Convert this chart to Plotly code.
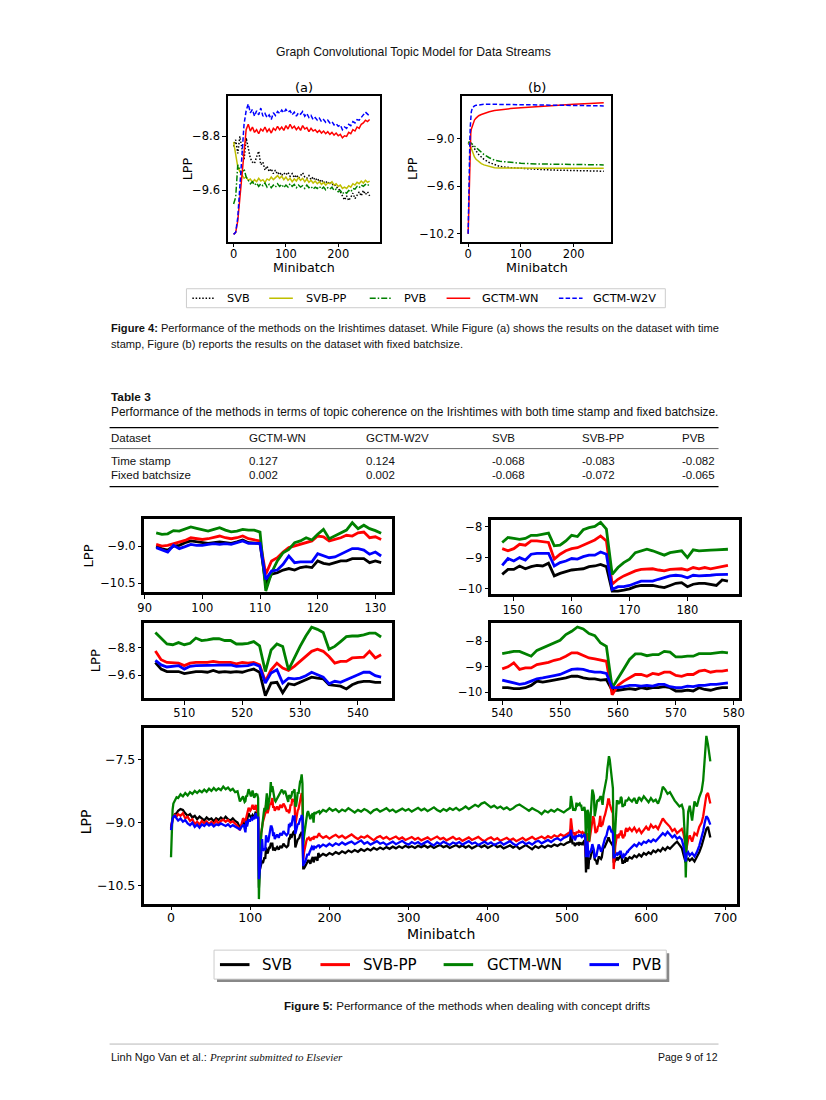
import plotly.graph_objects as go

# page pixel grid of the reference; the browser adds an 8 px body margin
OFF = 8
FW, FH = 818, 1092


def fx(p):
    return (p - OFF) / FW


def fy(p):
    return 1 - (p - OFF) / FH


PAGE_FONT = "Liberation Sans, Arial, sans-serif"
MPL_FONT = "DejaVu Sans, sans-serif"

# ---------------- Figure 4 data ----------------
f4a_x = list(range(0, 261, 4))
f4a_svb = [-8.95, -8.85, -9.05, -8.80, -8.98, -9.15, -8.82, -8.95, -9.12, -9.18,
           -9.20, -9.10, -9.02, -9.22, -9.18, -9.30, -9.24, -9.32, -9.28, -9.35,
           -9.30, -9.36, -9.33, -9.38, -9.34, -9.37, -9.33, -9.39, -9.35, -9.41,
           -9.37, -9.42, -9.38, -9.34, -9.40, -9.42, -9.38, -9.44, -9.40, -9.45,
           -9.42, -9.47, -9.44, -9.49, -9.46, -9.50, -9.47, -9.52, -9.50, -9.55,
           -9.56, -9.62, -9.70, -9.74, -9.68, -9.75, -9.70, -9.64, -9.72, -9.66,
           -9.62, -9.68, -9.60, -9.66, -9.62, -9.68]
f4a_svbpp = [-8.88, -9.10, -9.25, -9.32, -9.38, -9.42, -9.40, -9.45, -9.43, -9.48,
             -9.44, -9.47, -9.42, -9.46, -9.44, -9.48, -9.43, -9.45, -9.40, -9.44,
             -9.41, -9.38, -9.42, -9.39, -9.44, -9.40, -9.45, -9.42, -9.47, -9.43,
             -9.46, -9.41, -9.45, -9.42, -9.47, -9.43, -9.48, -9.45, -9.49, -9.46,
             -9.50, -9.47, -9.51, -9.48, -9.52, -9.49, -9.50, -9.47, -9.52, -9.50,
             -9.54, -9.52, -9.57, -9.55, -9.57, -9.53, -9.55, -9.50, -9.52, -9.48,
             -9.50, -9.46, -9.49, -9.45, -9.48, -9.46]
f4a_pvb = [-9.80, -9.70, -9.22, -9.30, -9.34, -9.28, -9.40, -9.46, -9.50, -9.47,
           -9.52, -9.49, -9.54, -9.50, -9.53, -9.49, -9.55, -9.51, -9.56, -9.52,
           -9.55, -9.50, -9.54, -9.51, -9.56, -9.52, -9.55, -9.50, -9.54, -9.51,
           -9.56, -9.52, -9.55, -9.53, -9.57, -9.52, -9.56, -9.54, -9.58, -9.55,
           -9.57, -9.54, -9.58, -9.55, -9.59, -9.56, -9.58, -9.55, -9.60, -9.58,
           -9.62, -9.60, -9.65, -9.62, -9.64, -9.60, -9.62, -9.57, -9.58, -9.54,
           -9.56, -9.52, -9.54, -9.51, -9.53, -9.50]
f4a_wn = [-10.25, -10.22, -10.05, -9.70, -9.30, -8.96, -8.70, -8.62, -8.72, -8.66,
          -8.74, -8.70, -8.76, -8.69, -8.72, -8.66, -8.73, -8.69, -8.75, -8.68,
          -8.71, -8.65, -8.70, -8.66, -8.71, -8.64, -8.69, -8.62, -8.68, -8.65,
          -8.70, -8.66, -8.71, -8.64, -8.69, -8.67, -8.73, -8.68, -8.72, -8.70,
          -8.74, -8.71, -8.75, -8.72, -8.76, -8.73, -8.77, -8.74, -8.78, -8.75,
          -8.79, -8.77, -8.82, -8.79, -8.80, -8.74, -8.76, -8.70, -8.72, -8.66,
          -8.68, -8.62, -8.60, -8.56, -8.58, -8.55]
f4a_w2v = [-10.25, -10.22, -10.00, -9.55, -9.00, -8.62, -8.42, -8.32, -8.45, -8.40,
           -8.50, -8.42, -8.48, -8.38, -8.50, -8.46, -8.52, -8.48, -8.55, -8.45,
           -8.49, -8.43, -8.46, -8.41, -8.45, -8.40, -8.44, -8.42, -8.48, -8.44,
           -8.50, -8.45, -8.47, -8.43, -8.50, -8.46, -8.52, -8.49, -8.55, -8.52,
           -8.56, -8.53, -8.58, -8.55, -8.59, -8.56, -8.60, -8.58, -8.63, -8.61,
           -8.65, -8.63, -8.70, -8.66, -8.68, -8.62, -8.64, -8.58, -8.60, -8.55,
           -8.56, -8.52, -8.48, -8.44, -8.47, -8.50]

f4b_x = [0, 1, 2, 3, 4, 5, 6, 8, 10, 12, 15, 20, 25, 30, 40, 50, 60, 80, 100, 130, 160, 200, 230, 257]
f4b_svb = [-9.07, -9.06, -9.05, -9.05, -9.05, -9.06, -9.07, -9.09, -9.11, -9.13, -9.16, -9.20,
           -9.23, -9.26, -9.30, -9.33, -9.35, -9.365, -9.375, -9.385, -9.395, -9.40, -9.405, -9.41]
f4b_svbpp = [-9.05, -9.05, -9.06, -9.07, -9.08, -9.10, -9.12, -9.16, -9.20, -9.23, -9.26, -9.29,
             -9.315, -9.33, -9.35, -9.365, -9.37, -9.372, -9.373, -9.372, -9.373, -9.372, -9.373, -9.372]
f4b_pvb = [-9.05, -9.04, -9.04, -9.04, -9.045, -9.05, -9.055, -9.065, -9.075, -9.09, -9.11, -9.14,
           -9.17, -9.20, -9.24, -9.27, -9.285, -9.30, -9.31, -9.318, -9.322, -9.325, -9.328, -9.33]
f4b_wn = [-10.20, -9.95, -9.55, -9.20, -9.00, -8.93, -8.88, -8.83, -8.79, -8.765, -8.74, -8.71,
          -8.695, -8.68, -8.66, -8.645, -8.635, -8.62, -8.61, -8.595, -8.58, -8.565, -8.555, -8.545]
f4b_w2v = [-10.20, -9.95, -9.50, -9.10, -8.85, -8.72, -8.66, -8.61, -8.595, -8.585, -8.578, -8.572,
           -8.568, -8.566, -8.565, -8.566, -8.568, -8.572, -8.575, -8.578, -8.58, -8.583, -8.585, -8.586]

# ---------------- Figure 5 data ----------------
seg1_x = [0, 1, 2, 3, 5, 7, 9, 12, 15, 18, 21, 24, 27, 30, 33, 36, 39, 42, 45, 48, 51, 54, 57,
          60, 63, 66, 69, 72, 75, 78, 81, 84, 87, 89, 91]
svb_seg1 = [-9.12, -8.98, -8.90, -8.86, -8.80, -8.78, -8.72, -8.68, -8.70, -8.78, -8.84, -8.80,
            -8.88, -8.84, -8.92, -8.86, -8.90, -8.95, -8.88, -8.93, -8.90, -8.97, -8.90, -8.94,
            -8.88, -8.93, -8.86, -8.92, -8.95, -8.90, -8.96, -9.00, -9.12, -9.05, -9.00]
svbpp_seg1 = [-9.15, -9.00, -8.92, -8.88, -8.82, -8.86, -8.80, -8.84, -8.78, -8.90, -8.86, -8.96,
              -8.92, -9.04, -8.98, -9.05, -8.96, -9.02, -8.97, -9.04, -8.98, -9.03, -8.95, -9.02,
              -8.96, -8.93, -8.98, -8.94, -9.00, -8.97, -9.03, -9.08, -9.18, -9.00, -8.90]
gctm_seg1 = [-9.82, -9.10, -8.70, -8.55, -8.48, -8.40, -8.42, -8.33, -8.38, -8.30, -8.36, -8.28,
             -8.32, -8.25, -8.30, -8.24, -8.28, -8.22, -8.27, -8.20, -8.25, -8.18, -8.24, -8.19,
             -8.23, -8.15, -8.21, -8.17, -8.24, -8.20, -8.28, -8.26, -8.50, -8.42, -8.38]
pvb_seg1 = [-9.18, -9.02, -8.92, -8.86, -8.84, -8.90, -8.95, -8.90, -8.98, -8.94, -9.02, -9.06,
            -9.00, -9.10, -9.05, -9.12, -9.04, -9.08, -9.02, -9.07, -9.03, -9.09, -9.04, -9.06,
            -9.02, -9.05, -9.08, -9.04, -9.10, -9.06, -9.10, -9.12, -9.16, -9.10, -9.05]

winA_x = list(range(92, 132))
svb_A = [-8.99, -9.10, -9.15, -8.99, -8.96, -8.85, -8.78, -8.82, -8.85, -8.88, -8.85, -8.82, -8.85,
         -8.88, -8.82, -8.74, -8.85, -8.85, -8.88, -10.54, -10.13, -10.07, -9.96, -9.90, -9.96,
         -9.86, -9.82, -9.86, -9.59, -9.69, -9.73, -9.66, -9.59, -9.59, -9.50, -9.50, -9.50,
         -9.66, -9.59, -9.66]
svbpp_A = [-8.92, -8.99, -8.96, -8.89, -8.85, -8.76, -8.65, -8.69, -8.72, -8.69, -8.65, -8.58,
           -8.65, -8.69, -8.65, -8.58, -8.69, -8.72, -8.78, -10.13, -9.59, -9.46, -9.23, -9.05,
           -8.99, -8.92, -8.85, -8.78, -8.58, -8.61, -8.78, -8.72, -8.65, -8.55, -8.58, -8.45,
           -8.42, -8.65, -8.61, -8.72]
gctm_A = [-8.45, -8.51, -8.49, -8.36, -8.38, -8.31, -8.21, -8.27, -8.34, -8.38, -8.31, -8.24,
          -8.34, -8.41, -8.38, -8.31, -8.34, -8.34, -8.42, -10.81, -10.07, -9.59, -9.26, -9.12,
          -8.85, -8.78, -8.65, -8.74, -8.51, -8.31, -8.69, -8.58, -8.45, -8.34, -8.04, -8.28,
          -8.14, -8.28, -8.36, -8.47]
pvb_A = [-9.05, -9.15, -9.23, -8.96, -9.09, -9.01, -8.92, -8.96, -8.96, -8.92, -8.89, -8.92,
         -8.89, -8.92, -8.85, -8.78, -8.88, -8.88, -8.88, -10.34, -10.00, -9.96, -9.73, -9.39,
         -9.66, -9.63, -9.63, -9.63, -9.30, -9.39, -9.46, -9.43, -9.32, -9.19, -9.09, -9.09,
         -9.15, -9.32, -9.23, -9.39]

seg2_x = [132, 134, 136, 138, 140, 142, 144, 146]
svb_seg2 = [-9.62, -9.58, -9.64, -9.55, -9.60, -9.50, -9.55, -9.58]
svbpp_seg2 = [-8.68, -8.62, -8.70, -8.58, -8.65, -8.55, -8.62, -8.72]
gctm_seg2 = [-8.50, -8.42, -8.35, -8.28, -8.22, -8.30, -8.25, -8.38]
pvb_seg2 = [-9.35, -9.28, -9.36, -9.25, -9.30, -9.20, -9.26, -9.30]

winB_x = list(range(148, 188))
svb_B = [-9.54, -9.38, -9.38, -9.27, -9.36, -9.29, -9.25, -9.27, -9.18, -9.59, -9.51, -9.46,
         -9.40, -9.38, -9.36, -9.29, -9.27, -9.22, -9.29, -10.08, -10.08, -10.05, -10.01, -9.94,
         -9.90, -9.90, -9.90, -9.94, -9.97, -9.90, -9.83, -9.81, -9.94, -9.86, -9.83, -9.83,
         -9.86, -9.90, -9.72, -9.76]
svbpp_B = [-8.71, -8.78, -8.71, -8.57, -8.60, -8.46, -8.46, -8.48, -8.51, -9.05, -8.89, -8.78,
           -8.71, -8.68, -8.60, -8.51, -8.43, -8.30, -8.46, -9.86, -9.70, -9.59, -9.51, -9.43,
           -9.38, -9.38, -9.36, -9.40, -9.43, -9.38, -9.36, -9.36, -9.40, -9.32, -9.36, -9.32,
           -9.36, -9.32, -9.29, -9.25]
gctm_B = [-8.51, -8.35, -8.38, -8.41, -8.38, -8.28, -8.28, -8.24, -8.21, -8.62, -8.60, -8.46,
          -8.28, -8.32, -8.10, -8.03, -7.99, -7.86, -8.08, -9.54, -9.32, -9.16, -9.05, -8.84,
          -8.78, -8.73, -8.78, -8.84, -8.92, -8.84, -8.82, -8.78, -9.00, -8.75, -8.78, -8.78,
          -8.76, -8.75, -8.73, -8.73]
pvb_B = [-9.25, -9.03, -9.11, -9.00, -9.08, -8.89, -8.86, -8.87, -8.86, -9.27, -9.16, -9.11,
         -9.03, -9.05, -8.97, -8.92, -8.92, -8.82, -8.89, -10.03, -9.94, -9.94, -9.90, -9.83,
         -9.76, -9.76, -9.76, -9.70, -9.65, -9.59, -9.57, -9.59, -9.65, -9.57, -9.59, -9.59,
         -9.57, -9.55, -9.54, -9.54]

seg3_x = list(range(188, 505, 4))
svb_seg3 = [-9.80, -9.74, -9.78, -9.72, -9.76, -9.70, -9.74, -9.68, -9.72, -9.66,
            -9.70, -9.65, -9.69, -9.63, -9.67, -9.62, -9.66, -9.60, -9.64, -9.59,
            -9.63, -9.58, -9.62, -9.57, -9.61, -9.56, -9.60, -9.55, -9.59, -9.56,
            -9.60, -9.55, -9.58, -9.54, -9.59, -9.55, -9.60, -9.56, -9.53, -9.58,
            -9.55, -9.60, -9.56, -9.53, -9.58, -9.54, -9.59, -9.55, -9.61, -9.56,
            -9.53, -9.58, -9.54, -9.60, -9.56, -9.52, -9.58, -9.55, -9.61, -9.57,
            -9.54, -9.59, -9.55, -9.62, -9.57, -9.53, -9.58, -9.63, -9.56, -9.60,
            -9.55, -9.59, -9.54, -9.57, -9.52, -9.55, -9.50, -9.53, -9.48, -9.45]
svbpp_seg3 = [-9.30, -9.36, -9.32, -9.38, -9.33, -9.29, -9.35, -9.31, -9.37, -9.33,
              -9.28, -9.34, -9.39, -9.33, -9.36, -9.31, -9.37, -9.42, -9.35, -9.32,
              -9.38, -9.34, -9.40, -9.36, -9.33, -9.39, -9.35, -9.41, -9.37, -9.34,
              -9.40, -9.36, -9.42, -9.38, -9.35, -9.41, -9.37, -9.33, -9.39, -9.36,
              -9.42, -9.38, -9.34, -9.40, -9.37, -9.43, -9.39, -9.35, -9.41, -9.38,
              -9.34, -9.40, -9.44, -9.38, -9.35, -9.41, -9.37, -9.43, -9.39, -9.36,
              -9.42, -9.38, -9.44, -9.40, -9.36, -9.42, -9.38, -9.34, -9.40, -9.37,
              -9.33, -9.38, -9.32, -9.36, -9.30, -9.34, -9.28, -9.32, -9.26, -9.22]
gctm_seg3 = [-8.78, -8.70, -8.74, -8.66, -8.72, -8.68, -8.75, -8.69, -8.73, -8.66,
             -8.71, -8.76, -8.70, -8.74, -8.68, -8.72, -8.78, -8.71, -8.68, -8.74,
             -8.70, -8.66, -8.73, -8.69, -8.75, -8.70, -8.67, -8.72, -8.68, -8.74,
             -8.70, -8.65, -8.71, -8.67, -8.73, -8.69, -8.64, -8.70, -8.74, -8.68,
             -8.72, -8.66, -8.70, -8.65, -8.71, -8.67, -8.62, -8.68, -8.64, -8.58,
             -8.62, -8.55, -8.52, -8.58, -8.64, -8.60, -8.66, -8.62, -8.68, -8.64,
             -8.70, -8.66, -8.60, -8.57, -8.63, -8.67, -8.72, -8.66, -8.70, -8.74,
             -8.80, -8.72, -8.76, -8.70, -8.74, -8.68, -8.72, -8.76, -8.70, -8.65]
pvb_seg3 = [-9.58, -9.52, -9.56, -9.50, -9.55, -9.49, -9.53, -9.47, -9.52, -9.48,
            -9.45, -9.51, -9.47, -9.42, -9.50, -9.46, -9.52, -9.48, -9.44, -9.50,
            -9.47, -9.53, -9.49, -9.45, -9.51, -9.47, -9.43, -9.49, -9.52, -9.46,
            -9.50, -9.46, -9.52, -9.48, -9.44, -9.50, -9.54, -9.47, -9.51, -9.45,
            -9.49, -9.53, -9.47, -9.50, -9.46, -9.52, -9.48, -9.44, -9.50, -9.47,
            -9.53, -9.49, -9.45, -9.51, -9.47, -9.53, -9.49, -9.46, -9.52, -9.48,
            -9.44, -9.50, -9.54, -9.48, -9.45, -9.51, -9.47, -9.52, -9.46, -9.43,
            -9.49, -9.45, -9.41, -9.46, -9.40, -9.37, -9.42, -9.36, -9.33, -9.28]

winC_x = list(range(505, 545))
svb_C = [-9.23, -9.42, -9.49, -9.49, -9.49, -9.55, -9.51, -9.49, -9.49, -9.51, -9.46, -9.51,
         -9.49, -9.51, -9.49, -9.51, -9.46, -9.42, -9.51, -10.18, -9.82, -9.80, -10.10, -9.84,
         -9.87, -9.80, -9.72, -9.65, -9.68, -9.70, -9.87, -9.90, -9.91, -9.99, -9.87, -9.80,
         -9.77, -9.77, -9.80, -9.80]
svbpp_C = [-8.90, -9.15, -9.23, -9.25, -9.25, -9.32, -9.25, -9.23, -9.23, -9.23, -9.20, -9.23,
           -9.23, -9.23, -9.27, -9.23, -9.25, -9.23, -9.30, -9.77, -9.44, -9.25, -9.39, -9.46,
           -9.34, -9.20, -9.06, -8.91, -8.85, -8.91, -9.06, -9.25, -9.20, -9.20, -9.10, -9.10,
           -9.08, -8.91, -9.10, -9.01]
gctm_C = [-8.37, -8.53, -8.70, -8.72, -8.66, -8.72, -8.68, -8.53, -8.60, -8.58, -8.55, -8.55,
          -8.60, -8.60, -8.70, -8.70, -8.68, -8.63, -8.75, -9.49, -8.87, -8.70, -8.77, -9.44,
          -9.10, -8.77, -8.47, -8.22, -8.28, -8.37, -8.85, -8.77, -8.63, -8.49, -8.47, -8.47,
          -8.44, -8.39, -8.39, -8.50]
pvb_C = [-9.17, -9.30, -9.36, -9.34, -9.32, -9.42, -9.34, -9.32, -9.32, -9.32, -9.30, -9.32,
         -9.32, -9.30, -9.34, -9.32, -9.32, -9.27, -9.34, -9.82, -9.53, -9.44, -9.82, -9.68,
         -9.70, -9.68, -9.61, -9.51, -9.58, -9.65, -9.84, -9.77, -9.80, -9.72, -9.65, -9.58,
         -9.51, -9.51, -9.61, -9.65]

winD_x = list(range(540, 580))
svb_D = [-9.82, -9.82, -9.86, -9.86, -9.82, -9.73, -9.56, -9.60, -9.56, -9.52, -9.50, -9.43,
         -9.37, -9.37, -9.43, -9.47, -9.47, -9.52, -9.50, -9.92, -9.92, -9.89, -9.86, -9.89,
         -9.82, -9.86, -9.82, -9.82, -9.78, -9.82, -9.95, -9.95, -9.92, -9.95, -9.82, -9.89,
         -9.92, -9.86, -9.82, -9.82]
svbpp_D = [-9.08, -9.00, -8.84, -9.10, -9.04, -9.04, -8.91, -8.87, -8.82, -8.74, -8.69, -8.58,
           -8.45, -8.45, -8.56, -8.65, -8.69, -8.74, -8.78, -10.10, -9.73, -9.56, -9.43, -9.30,
           -9.30, -9.37, -9.26, -9.30, -9.21, -9.21, -9.34, -9.37, -9.30, -9.30, -9.17, -9.13,
           -9.21, -9.17, -9.17, -9.13]
gctm_D = [-8.48, -8.42, -8.39, -8.39, -8.48, -8.58, -8.35, -8.25, -8.16, -8.03, -7.95, -7.73,
          -7.60, -7.43, -7.51, -7.69, -7.77, -8.06, -8.19, -9.82, -9.47, -9.08, -8.71, -8.49,
          -8.49, -8.56, -8.52, -8.52, -8.39, -8.42, -8.61, -8.61, -8.58, -8.58, -8.48, -8.48,
          -8.48, -8.45, -8.42, -8.45]
pvb_D = [-9.52, -9.56, -9.63, -9.69, -9.65, -9.56, -9.47, -9.43, -9.37, -9.34, -9.30, -9.21,
         -9.10, -9.08, -9.10, -9.17, -9.21, -9.21, -9.26, -9.82, -9.82, -9.78, -9.73, -9.73,
         -9.76, -9.73, -9.76, -9.69, -9.69, -9.78, -9.82, -9.82, -9.76, -9.78, -9.73, -9.73,
         -9.69, -9.69, -9.65, -9.63]

seg4_x = [582, 585, 588, 591, 594, 597, 600, 603, 606, 609, 612, 615, 618, 621, 624, 627, 630,
          633, 636, 639, 642, 645, 647, 649, 650, 651, 653, 655, 658, 661, 664, 667, 670, 672,
          674, 676, 678, 680, 681]
svb_seg4 = [-9.85, -9.78, -9.82, -9.75, -9.80, -9.72, -9.76, -9.70, -9.74, -9.66,
            -9.70, -9.64, -9.68, -9.60, -9.65, -9.58, -9.62, -9.55, -9.50, -9.45,
            -9.52, -9.60, -9.75, -9.90, -9.95, -9.88, -9.85, -9.90, -9.85, -9.92,
            -9.82, -9.70, -9.55, -9.40, -9.25, -9.15, -9.10, -9.25, -9.35]
svbpp_seg4 = [-9.20, -9.12, -9.22, -9.15, -9.25, -9.18, -9.10, -9.18, -9.05, -9.12,
              -9.08, -9.15, -9.00, -8.90, -8.98, -9.05, -9.10, -9.20, -9.15, -9.25,
              -9.20, -9.15, -9.25, -9.45, -9.70, -9.60, -9.40, -9.30, -9.45, -9.25,
              -9.30, -9.10, -9.00, -8.85, -8.60, -8.35, -8.30, -8.45, -8.55]
gctm_seg4 = [-8.50, -8.42, -8.55, -8.40, -8.48, -8.38, -8.46, -8.52, -8.42, -8.50,
             -8.46, -8.55, -8.40, -8.15, -8.22, -8.32, -8.28, -8.40, -8.48, -8.55,
             -8.62, -8.58, -8.70, -9.40, -10.30, -9.60, -8.75, -8.60, -8.95, -8.50,
             -8.62, -8.40, -8.25, -8.00, -7.40, -6.95, -7.15, -7.45, -7.55]
pvb_seg4 = [-9.58, -9.52, -9.56, -9.48, -9.52, -9.45, -9.48, -9.42, -9.46, -9.40,
            -9.44, -9.38, -9.32, -9.25, -9.30, -9.22, -9.28, -9.35, -9.30, -9.38,
            -9.34, -9.40, -9.55, -9.80, -9.92, -9.75, -9.70, -9.78, -9.72, -9.80,
            -9.70, -9.55, -9.35, -9.20, -9.00, -8.85, -8.90, -9.00, -9.05]

f5_names = ["SVB", "SVB-PP", "GCTM-WN", "PVB"]
f5_colors = ["#000000", "#ff0000", "#008000", "#0000ff"]
f4_names = ["SVB", "SVB-PP", "PVB", "GCTM-WN", "GCTM-W2V"]

# ---------------- Table data ----------------
table_header = ["Dataset", "GCTM-WN", "GCTM-W2V", "SVB", "SVB-PP", "PVB"]
table_row1 = ["Time stamp", "0.127", "0.124", "-0.068", "-0.083", "-0.082"]
table_row2 = ["Fixed batchsize", "0.002", "0.002", "-0.068", "-0.072", "-0.065"]
table_col_px = [104, 244, 363, 491, 582, 684]


def assemble(parts):
    d = {}
    for xs, ys in parts:
        for xv, yv in zip(xs, ys):
            d[xv] = yv
    keys = sorted(d)
    return keys, [d[k] for k in keys]


full = {
    "SVB": assemble([(seg1_x, svb_seg1), (winA_x, svb_A), (seg2_x, svb_seg2), (winB_x, svb_B),
                     (seg3_x, svb_seg3), (winC_x, svb_C), (winD_x, svb_D), (seg4_x, svb_seg4)]),
    "SVB-PP": assemble([(seg1_x, svbpp_seg1), (winA_x, svbpp_A), (seg2_x, svbpp_seg2), (winB_x, svbpp_B),
                        (seg3_x, svbpp_seg3), (winC_x, svbpp_C), (winD_x, svbpp_D), (seg4_x, svbpp_seg4)]),
    "GCTM-WN": assemble([(seg1_x, gctm_seg1), (winA_x, gctm_A), (seg2_x, gctm_seg2), (winB_x, gctm_B),
                         (seg3_x, gctm_seg3), (winC_x, gctm_C), (winD_x, gctm_D), (seg4_x, gctm_seg4)]),
    "PVB": assemble([(seg1_x, pvb_seg1), (winA_x, pvb_A), (seg2_x, pvb_seg2), (winB_x, pvb_B),
                     (seg3_x, pvb_seg3), (winC_x, pvb_C), (winD_x, pvb_D), (seg4_x, pvb_seg4)]),
}
windows = {
    "3": (winA_x, [svb_A, svbpp_A, gctm_A, pvb_A]),
    "4": (winB_x, [svb_B, svbpp_B, gctm_B, pvb_B]),
    "5": (winC_x, [svb_C, svbpp_C, gctm_C, pvb_C]),
    "6": (winD_x, [svb_D, svbpp_D, gctm_D, pvb_D]),
}

fig = go.Figure()


def add_line(x, y, color, width, dash, n):
    sfx = "" if n == "1" else n
    fig.add_trace(go.Scatter(x=x, y=y, mode="lines",
                             line=dict(color=color, width=width, dash=dash),
                             xaxis="x" + sfx, yaxis="y" + sfx,
                             showlegend=False, hoverinfo="skip"))


DOT = "1.5px,1.8px"
DASH = "4.5px,2.2px"
DASHDOT = "6px,2px,1.5px,2px"
f4_style = [("#000000", DOT), ("#bfbf00", "solid"), ("#008000", DASHDOT),
            ("#ff0000", "solid"), ("#0000ff", DASH)]
for ys, (c, d) in zip([f4a_svb, f4a_svbpp, f4a_pvb, f4a_wn, f4a_w2v], f4_style):
    add_line(f4a_x, ys, c, 1.5, d, "1")
for ys, (c, d) in zip([f4b_svb, f4b_svbpp, f4b_pvb, f4b_wn, f4b_w2v], f4_style):
    add_line(f4b_x, ys, c, 1.5, d, "2")

for n, (xs, series) in windows.items():
    for ys, c in zip(series, f5_colors):
        add_line(xs, ys, c, 2.8, "solid", n)
for name, c in zip(f5_names, f5_colors):
    xs, ys = full[name]
    add_line(xs, ys, c, 2.3, "solid", "7")


def ylab(v, nd):
    s = f"{abs(v):.{nd}f}"
    return ("\u2212" if v < 0 else "") + s


axes = {}


def make_axes(n, box, xr, xt, yr, yt, nd, tsize, lw, xstand=0):
    l, t, r, b = box
    sfx = "" if n == 1 else str(n)
    common = dict(showline=True, mirror=True, linecolor="black", linewidth=lw,
                  ticks="outside", ticklen=3.5, tickwidth=1.2, tickcolor="black",
                  showgrid=False, zeroline=False, fixedrange=True,
                  tickfont=dict(family=MPL_FONT, size=tsize, color="black"))
    axes["xaxis" + sfx] = dict(domain=[fx(l), fx(r)], range=xr, tickvals=xt,
                               ticktext=[str(v) for v in xt], anchor="y" + sfx,
                               ticklabelstandoff=xstand, **common)
    axes["yaxis" + sfx] = dict(domain=[fy(b), fy(t)], range=yr, tickvals=yt,
                               ticktext=[ylab(v, nd) for v in yt], anchor="x" + sfx, **common)


make_axes(1, (224, 96, 378, 242), [-11, 279], [0, 100, 200], [-10.36, -8.20], [-8.8, -9.6], 1, 11.5, 2, -3)
make_axes(2, (462, 96, 613, 242), [-11, 271], [0, 100, 200], [-10.30, -8.46], [-9.0, -9.6, -10.2], 1, 11.5, 2, -3)
make_axes(3, (139, 519, 391, 593), [89.9, 132.95], [90, 100, 110, 120, 130], [-10.87, -7.87], [-9.0, -10.5], 1, 11.5, 2.6, -1)
make_axes(4, (491, 520, 743, 595), [146.05, 188.95], [150, 160, 170, 180], [-10.19, -7.77], [-8, -9, -10], 0, 11.5, 2.6, -1)
make_axes(5, (139, 624, 391, 699), [503.05, 545.95], [510, 520, 530, 540], [-10.26, -8.11], [-8.8, -9.6], 1, 11.5, 2.6, -1)
make_axes(6, (491, 624, 743, 699), [538.05, 580.95], [540, 550, 560, 570, 580], [-10.24, -7.29], [-8, -9, -10], 0, 11.5, 2.6, -1)
make_axes(7, (139, 729, 741, 905), [-34, 715], [0, 100, 200, 300, 400, 500, 600, 700], [-10.93, -6.77], [-7.5, -9.0, -10.5], 1, 12.5, 2.6, -3)

annots = []
shapes = []


def text(s, x, y, size, anchor="left", family=PAGE_FONT, color="#111111", angle=0):
    annots.append(dict(text=s, x=fx(x), y=fy(y), xref="paper", yref="paper",
                       xanchor=anchor, yanchor="middle", showarrow=False,
                       font=dict(family=family, size=size, color=color), textangle=angle))


def hline(y, x0, x1, w, color="black", dash="solid"):
    shapes.append(dict(type="line", xref="paper", yref="paper", x0=fx(x0), x1=fx(x1),
                       y0=fy(y), y1=fy(y), line=dict(color=color, width=w, dash=dash)))


def rect(x0, y0, x1, y1, line_color, fill, w=1):
    shapes.append(dict(type="rect", xref="paper", yref="paper", x0=fx(x0), x1=fx(x1),
                       y0=fy(y1), y1=fy(y0), line=dict(color=line_color, width=w), fillcolor=fill,
                       layer="above"))


# Header
text("Graph Convolutional Topic Model for Data Streams", 412, 52, 12.2, anchor="center")

# Figure 4 text
text("(a)", 301, 88, 13, anchor="center", family=MPL_FONT, color="black")
text("(b)", 538, 88, 13, anchor="center", family=MPL_FONT, color="black")
text("Minibatch", 301, 268, 12.7, anchor="center", family=MPL_FONT, color="black")
text("Minibatch", 538, 268, 12.7, anchor="center", family=MPL_FONT, color="black")
text("LPP", 183, 169, 12.7, anchor="center", family=MPL_FONT, color="black", angle=-90)
text("LPP", 412, 169, 12.7, anchor="center", family=MPL_FONT, color="black", angle=-90)

# Figure 4 legend
rect(182, 289, 668, 308, "#cccccc", "rgba(255,255,255,0.9)", 1)
leg4_line = [(188, 211), (266, 290), (368, 391), (446, 470), (560, 584)]
leg4_text = [222, 302, 402, 481, 594]
for (a, b), tx, name, (c, d) in zip(leg4_line, leg4_text, f4_names, f4_style):
    hline(298.5, a, b, 1.5, c, d)
    text(name, tx - 1, 298.5, 11.3, family=MPL_FONT, color="black")

# Figure 4 caption
text("<b>Figure 4:</b> Performance of the methods on the Irishtimes dataset. While Figure (a) shows the results on the dataset with time",
     103, 328, 11.1)
text("stamp, Figure (b) reports the results on the dataset with fixed batchsize.", 103, 344, 11.1)

# Table 3
text("<b>Table 3</b>", 103, 397, 11.8)
text("Performance of the methods in terms of topic coherence on the Irishtimes with both time stamp and fixed batchsize.",
     103, 412, 11.9)
hline(428, 104, 722, 1.2)
hline(449, 104, 722, 0.6)
hline(487, 104, 722, 1.2)
for row, yrow in [(table_header, 438), (table_row1, 461), (table_row2, 475)]:
    for cell, xc in zip(row, table_col_px):
        text(cell, xc - 1, yrow, 11.5)

# Figure 5 labels
text("LPP", 83, 556, 13, anchor="center", family=MPL_FONT, color="black", angle=-90)
text("LPP", 90, 661, 13, anchor="center", family=MPL_FONT, color="black", angle=-90)
text("LPP", 80, 822, 14, anchor="center", family=MPL_FONT, color="black", angle=-90)
text("Minibatch", 440, 935, 14, anchor="center", family=MPL_FONT, color="black")

# Figure 5 legend
rect(213, 954, 672, 983, "rgba(0,0,0,0)", "#888888", 0)
rect(210, 951, 669, 980, "#cccccc", "white", 1)
leg5_line = [(216, 246), (318, 348), (443, 473), (591, 621)]
leg5_text = [258, 360, 486, 633]
for (a, b), tx, name, c in zip(leg5_line, leg5_text, f5_names, f5_colors):
    hline(965.5, a, b, 3, c)
    text(name, tx - 1, 965.5, 15, family=MPL_FONT, color="black")

text("<b>Figure 5:</b> Performance of the methods when dealing with concept drifts", 279, 1006, 11.6)

# Footer
hline(1045, 104, 722, 0.7, "#999999")
text("Linh Ngo Van et al.: <i><span style='font-family:Liberation Serif, Times New Roman, serif'>Preprint submitted to Elsevier</span></i>",
     103, 1058, 11)
text("Page 9 of 12", 723, 1058, 10.5, anchor="right")

fig.update_layout(width=FW, height=FH, margin=dict(l=0, r=0, t=0, b=0),
                  paper_bgcolor="white", plot_bgcolor="white", showlegend=False,
                  annotations=annots, shapes=shapes, **axes)

fig.write_html("out.html")
